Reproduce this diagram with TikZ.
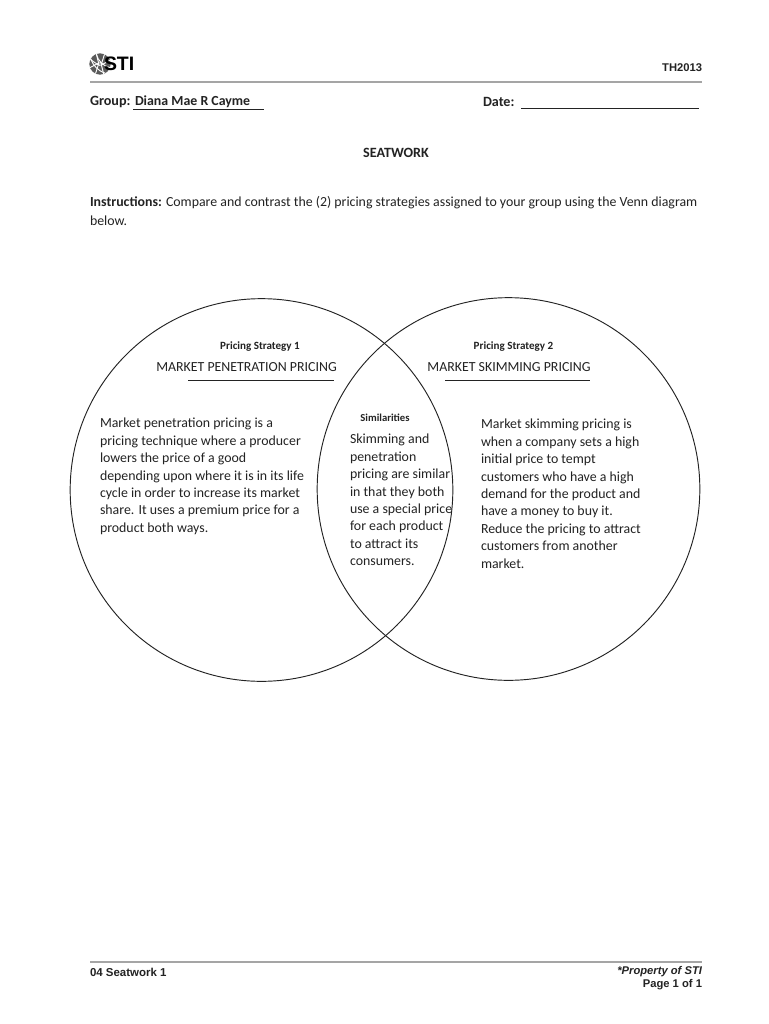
\documentclass[tikz,border=0pt]{standalone}
\usepackage{fontspec}
\setmainfont{Carlito}
\newfontfamily\arialfont{Liberation Sans}
\usetikzlibrary{positioning}
\definecolor{rulegray}{RGB}{165,165,165}
\definecolor{inkblack}{RGB}{35,35,35}
\tikzset{
  every node/.style={inner sep=0pt, outer sep=0pt, text=inkblack},
  pagetext/.style={font=\fontsize{10.4pt}{13pt}\selectfont, anchor=west},
  boldtext/.style={font=\fontsize{10.6pt}{13pt}\selectfont\bfseries, anchor=west},
  bodytext/.style={font=\fontsize{10.4pt}{13.1pt}\selectfont, align=left, anchor=north west},
  smallhead/.style={font=\fontsize{8.3pt}{9pt}\selectfont\bfseries},
  titletext/.style={font=\fontsize{10.4pt}{13pt}\selectfont},
  arialtext/.style={font=\fontsize{8.4pt}{10pt}\selectfont\arialfont\bfseries},
  venncircle/.style={draw=inkblack, line width=0.7pt, circle, minimum size=287pt},
  headrule/.style={draw=rulegray, line width=1.3pt},
  inkrule/.style={draw=inkblack, line width=0.7pt}
}
\begin{document}
\begin{tikzpicture}[x=0.75pt, y=-0.75pt]
\useasboundingbox[fill=white] (0,0) rectangle (768,1024);
% header
\node[circle, minimum size=16pt, fill=inkblack!75] (globe) at (100,64) {};
\foreach \a in {20,65,110,155,200,245,290}
  \draw[white, line width=0.7pt] (globe.center) ++(\a:2) -- (globe.\a);
\draw[white, line width=0.7pt] (globe.150) to[bend right=25] (globe.-60);
\draw[white, line width=0.7pt] (globe.110) to[bend right=30] (globe.-20);
\node[font=\fontsize{14.6pt}{15pt}\selectfont\arialfont\bfseries, text=black, anchor=west] (sti) at (104,64) {STI};
\node[arialtext, anchor=east] (code) at (702,68) {TH2013};
\draw[headrule] (90,82) coordinate (headl) -- (702,82) coordinate (headr);
\node[boldtext] (group) at (90,102) {Group:};
\node[boldtext, font=\fontsize{10.4pt}{13pt}\selectfont\bfseries] (groupname) at (135,102) {Diana Mae R Cayme};
\draw[inkrule] (133,109) coordinate (ga) -- (264,109) coordinate (gb);
\node[boldtext] (date) at (483,102) {Date:};
\draw[inkrule] (521,108) coordinate (da) -- (699,108) coordinate (db);
\node[boldtext, anchor=center] (seatwork) at (396,153) {SEATWORK};
\node[pagetext] (instr) at (90,202.5) {\textbf{Instructions:} Compare and contrast the (2) pricing strategies assigned to your group using the Venn diagram};
\node[pagetext] (below) at (90,221) {below.};
% venn
\node[venncircle] (left) at (261.5,490) {};
\node[venncircle] (right) at (508.5,489) {};
\node[smallhead] (strat1) at (260,347) {Pricing Strategy 1};
\node[smallhead] (strat2) at (513.5,347) {Pricing Strategy 2};
\node[titletext] (name1) at (246.5,367) {MARKET PENETRATION PRICING};
\node[titletext] (name2) at (509,367) {MARKET SKIMMING PRICING};
\draw[inkrule] (188,380) coordinate (ua) -- (334,380) coordinate (ub);
\draw[inkrule] (445,380) coordinate (uc) -- (590,380) coordinate (ud);
\node[bodytext] (text1) at (100,418) {Market penetration pricing is a\\pricing technique where a producer\\lowers the price of a good\\depending upon where it is in its life\\cycle in order to increase its market\\share. It uses a premium price for a\\product both ways.};
\node[smallhead, font=\fontsize{8pt}{9pt}\selectfont\bfseries] (simhead) at (385,418) {Similarities};
\node[bodytext] (text2) at (350,434) {Skimming and\\penetration\\pricing are similar\\in that they both\\use a special price\\for each product\\to attract its\\consumers.};
\node[bodytext] (text3) at (481,419) {Market skimming pricing is\\when a company sets a high\\initial price to tempt\\customers who have a high\\demand for the product and\\have a money to buy it.\\Reduce the pricing to attract\\customers from another\\market.};
% footer
\draw[headrule] (90,962) coordinate (footl) -- (702,962) coordinate (footr);
\node[arialtext, anchor=west, font=\fontsize{8.6pt}{10pt}\selectfont\arialfont\bfseries] (foot1) at (90,972) {04 Seatwork 1};
\node[arialtext, anchor=east, font=\fontsize{8.4pt}{10pt}\selectfont\arialfont\bfseries\itshape] (prop) at (702,972) {*Property of STI};
\node[arialtext, anchor=east] (pagenum) at (702,985) {Page 1 of 1};
\end{tikzpicture}
\end{document}
